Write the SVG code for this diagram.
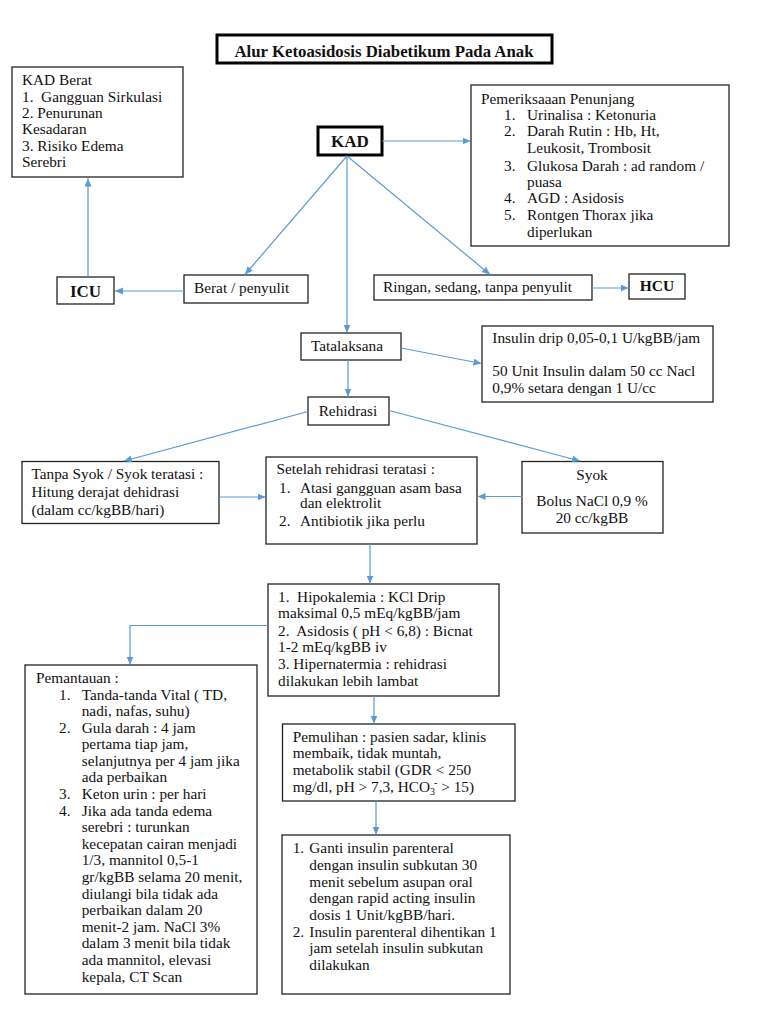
<svg xmlns="http://www.w3.org/2000/svg" width="768" height="1024" viewBox="0 0 768 1024">
<defs>
<marker id="ah" markerWidth="9" markerHeight="8" refX="8" refY="3.5" orient="auto" markerUnits="userSpaceOnUse">
<path d="M0,0 L8,3.5 L0,7 z" fill="#5b9bd5"/>
</marker>
<style>
.box{fill:#fff;stroke:#222;stroke-width:1.3}
.thick{fill:#fff;stroke:#000;stroke-width:3}
text{font-family:"Liberation Serif","Times New Roman",serif;font-size:15.3px;fill:#111}
.b{font-weight:bold}
.conn line,.conn polyline{stroke:#5b9bd5;stroke-width:1.2;fill:none}
.arr{marker-end:url(#ah)}
</style>
</defs>
<rect width="768" height="1024" fill="#fff"/>

<g id="title">
<rect class="thick" x="217" y="35" width="335" height="28"/>
<text class="b" x="384" y="56.5" text-anchor="middle" style="font-size:16.8px">Alur Ketoasidosis Diabetikum Pada Anak</text>
</g>

<g id="kad-berat">
<rect class="box" x="12" y="67" width="171" height="110"/>
<text x="22" y="85" xml:space="preserve">KAD Berat</text>
<text x="22" y="101.7" xml:space="preserve">1.  Gangguan Sirkulasi</text>
<text x="22" y="117.5" xml:space="preserve">2. Penurunan</text>
<text x="22" y="133.5">Kesadaran</text>
<text x="22" y="150.5" xml:space="preserve">3. Risiko Edema</text>
<text x="22" y="166.7">Serebri</text>
</g>

<g id="kad">
<rect class="thick" x="318" y="127" width="64" height="28"/>
<text class="b" x="350" y="147" text-anchor="middle" style="font-size:17px">KAD</text>
</g>

<g id="pemeriksaan">
<rect class="box" x="471" y="85" width="258" height="161"/>
<text x="481" y="104">Pemeriksaaan Penunjang</text>
<text x="504" y="119.5">1.</text><text x="527" y="119.5">Urinalisa : Ketonuria</text>
<text x="504" y="136.2">2.</text><text x="527" y="136.2">Darah Rutin : Hb, Ht,</text>
<text x="527" y="153">Leukosit, Trombosit</text>
<text x="504" y="170.5">3.</text><text x="527" y="170.5">Glukosa Darah : ad random /</text>
<text x="527" y="186.8">puasa</text>
<text x="504" y="203.3">4.</text><text x="527" y="203.3">AGD : Asidosis</text>
<text x="504" y="220">5.</text><text x="527" y="220">Rontgen Thorax jika</text>
<text x="527" y="236.7">diperlukan</text>
</g>

<g id="icu">
<rect class="box" x="57" y="277" width="57" height="27"/>
<text class="b" x="85.5" y="297" text-anchor="middle" style="font-size:17px">ICU</text>
</g>

<g id="berat">
<rect class="box" x="184" y="275" width="124" height="28"/>
<text x="194" y="293">Berat / penyulit</text>
</g>

<g id="ringan">
<rect class="box" x="374" y="275" width="218" height="25"/>
<text x="383" y="292">Ringan, sedang, tanpa penyulit</text>
</g>

<g id="hcu">
<rect class="box" x="629" y="274" width="56" height="25"/>
<text class="b" x="657" y="291" text-anchor="middle" style="font-size:15.5px">HCU</text>
</g>

<g id="tatalaksana">
<rect class="box" x="301" y="333" width="100" height="27"/>
<text x="311" y="351">Tatalaksana</text>
</g>

<g id="insulin">
<rect class="box" x="482" y="326" width="231" height="76"/>
<text x="492.3" y="343">Insulin drip 0,05-0,1 U/kgBB/jam</text>
<text x="492.3" y="376">50 Unit Insulin dalam 50 cc Nacl</text>
<text x="492.3" y="392.7">0,9% setara dengan 1 U/cc</text>
</g>

<g id="rehidrasi">
<rect class="box" x="308" y="397" width="81" height="28"/>
<text x="348" y="416" text-anchor="middle">Rehidrasi</text>
</g>

<g id="tanpa-syok">
<rect class="box" x="22" y="461.5" width="197" height="62"/>
<text x="31.5" y="478.5">Tanpa Syok / Syok teratasi :</text>
<text x="31.5" y="496.7">Hitung derajat dehidrasi</text>
<text x="31.5" y="515">(dalam cc/kgBB/hari)</text>
</g>

<g id="setelah">
<rect class="box" x="266" y="457" width="211" height="87"/>
<text x="276.5" y="474">Setelah rehidrasi teratasi :</text>
<text x="279" y="492.7">1.</text><text x="300" y="492.7">Atasi gangguan asam basa</text>
<text x="300" y="508">dan elektrolit</text>
<text x="279" y="526">2.</text><text x="300" y="526">Antibiotik jika perlu</text>
</g>

<g id="syok">
<rect class="box" x="522" y="461.5" width="141" height="71.5"/>
<text x="592" y="480" text-anchor="middle">Syok</text>
<text x="592" y="506" text-anchor="middle">Bolus NaCl 0,9 %</text>
<text x="592" y="523" text-anchor="middle">20 cc/kgBB</text>
</g>

<g id="hipokalemia">
<rect class="box" x="268" y="584" width="231" height="112"/>
<text x="278" y="601.7" xml:space="preserve">1.  Hipokalemia : KCl Drip</text>
<text x="278" y="618.3">maksimal 0,5 mEq/kgBB/jam</text>
<text x="278" y="635.7" xml:space="preserve">2.  Asidosis ( pH &lt; 6,8) : Bicnat</text>
<text x="278" y="652.3">1-2 mEq/kgBB iv</text>
<text x="278" y="669.3">3. Hipernatermia : rehidrasi</text>
<text x="278" y="686">dilakukan lebih lambat</text>
</g>

<g id="pemantauan">
<rect class="box" x="25" y="665" width="232" height="329"/>
<text x="36" y="683">Pemantauan :</text>
<text x="59" y="700">1.</text><text x="81.7" y="700">Tanda-tanda Vital ( TD,</text>
<text x="81.7" y="716">nadi, nafas, suhu)</text>
<text x="59" y="732.6">2.</text><text x="81.7" y="732.6">Gula darah : 4 jam</text>
<text x="81.7" y="749.2">pertama tiap jam,</text>
<text x="81.7" y="765.8">selanjutnya per 4 jam jika</text>
<text x="81.7" y="782.4">ada perbaikan</text>
<text x="59" y="799">3.</text><text x="81.7" y="799">Keton urin : per hari</text>
<text x="59" y="815.6">4.</text><text x="81.7" y="815.6">Jika ada tanda edema</text>
<text x="81.7" y="832.2">serebri : turunkan</text>
<text x="81.7" y="848.8">kecepatan cairan menjadi</text>
<text x="81.7" y="865.4">1/3, mannitol 0,5-1</text>
<text x="81.7" y="882">gr/kgBB selama 20 menit,</text>
<text x="81.7" y="898.6">diulangi bila tidak ada</text>
<text x="81.7" y="915.2">perbaikan dalam 20</text>
<text x="81.7" y="931.8">menit-2 jam. NaCl 3%</text>
<text x="81.7" y="948.4">dalam 3 menit bila tidak</text>
<text x="81.7" y="965">ada mannitol, elevasi</text>
<text x="81.7" y="981.6">kepala, CT Scan</text>
</g>

<g id="pemulihan">
<rect class="box" x="282.5" y="724" width="232.5" height="77"/>
<text x="292.7" y="741.7">Pemulihan : pasien sadar, klinis</text>
<text x="292.7" y="758.3">membaik, tidak muntah,</text>
<text x="292.7" y="775">metabolik stabil (GDR &lt; 250</text>
<text x="292.7" y="791.7">mg/dl, pH &gt; 7,3, HCO<tspan style="font-size:10px" dy="3">3</tspan><tspan style="font-size:10px" dx="-1" dy="-9">-</tspan><tspan dy="6"> &gt; 15)</tspan></text>
</g>

<g id="ganti-insulin">
<rect class="box" x="282" y="835" width="228" height="159"/>
<text x="292.7" y="853.3">1.</text><text x="309.3" y="853.3">Ganti insulin parenteral</text>
<text x="309.3" y="870">dengan insulin subkutan 30</text>
<text x="309.3" y="886.7">menit sebelum asupan oral</text>
<text x="309.3" y="903.3">dengan rapid acting insulin</text>
<text x="309.3" y="920">dosis 1 Unit/kgBB/hari.</text>
<text x="292.7" y="936.7">2.</text><text x="309.3" y="936.7">Insulin parenteral dihentikan 1</text>
<text x="309.3" y="953.3">jam setelah insulin subkutan</text>
<text x="309.3" y="970">dilakukan</text>
</g>

<g id="connectors" class="conn">
<line class="arr" x1="88" y1="277" x2="88" y2="178.5"/>
<line class="arr" x1="184" y1="291" x2="115" y2="291"/>
<line class="arr" x1="382" y1="141" x2="470.5" y2="141"/>
<line class="arr" x1="347" y1="156" x2="245" y2="274.5"/>
<line class="arr" x1="347" y1="156" x2="347" y2="332.5"/>
<line class="arr" x1="347" y1="156" x2="490" y2="274.5"/>
<line class="arr" x1="592" y1="288" x2="628.5" y2="288"/>
<line class="arr" x1="401" y1="348" x2="481.5" y2="363.5"/>
<line class="arr" x1="348" y1="360" x2="348" y2="396.5"/>
<line class="arr" x1="308" y1="411.5" x2="124" y2="461"/>
<line class="arr" x1="389" y1="410.5" x2="580" y2="461"/>
<line class="arr" x1="219.5" y1="497" x2="265.5" y2="497"/>
<line class="arr" x1="522" y1="496.5" x2="477.5" y2="496.5"/>
<line class="arr" x1="370" y1="544" x2="370" y2="583.5"/>
<polyline class="arr" points="268,625.5 130,625.5 130,664.5"/>
<line class="arr" x1="374" y1="696" x2="374" y2="723.5"/>
<line class="arr" x1="376" y1="801" x2="376" y2="834.5"/>
</g>
</svg>
